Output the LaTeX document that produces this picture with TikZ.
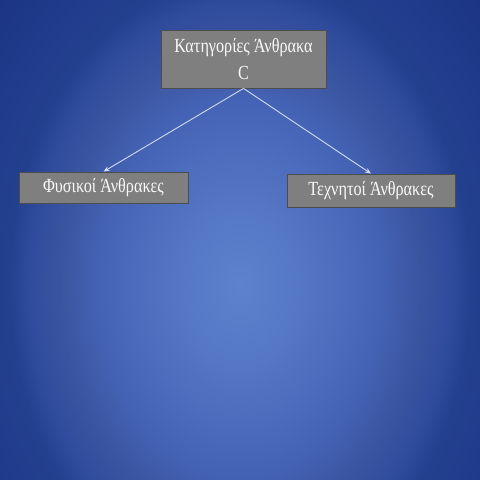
\documentclass[tikz,border=0pt]{standalone}
\usepackage{fontspec}
\setmainfont{Liberation Serif}
\newfontfamily\boxfont[FakeStretch=0.81]{Liberation Serif}
\usetikzlibrary{arrows.meta}
\definecolor{bgc0}{HTML}{5E82CE}
\definecolor{bgc1}{HTML}{5577C5}
\definecolor{bgc2}{HTML}{4563B5}
\definecolor{bgc3}{HTML}{3A55A0}
\definecolor{bgc4}{HTML}{2F4B9C}
\definecolor{bgc5}{HTML}{23408F}
\definecolor{bgc6}{HTML}{1C3585}
\definecolor{boxgray}{HTML}{7F7F7F}
\definecolor{arrowcol}{HTML}{D0DCF4}
\pgfdeclareradialshading{bgshade}{\pgfpoint{0bp}{0bp}}{color(0bp)=(bgc0); color(25bp)=(bgc1); color(58bp)=(bgc2); color(75bp)=(bgc3); color(87.5bp)=(bgc4); color(96bp)=(bgc5); color(134bp)=(bgc6); color(140bp)=(bgc6)}
\tikzset{
  catbox/.style={draw=black!70, line width=0.8pt, fill=boxgray, text=white!95!gray,
    font=\boxfont\fontsize{20}{27}\selectfont, inner sep=0pt, align=center},
  link/.style={draw=arrowcol, line width=0.9pt, -{Stealth[length=6pt,width=5pt]}}
}
\begin{document}
\begin{tikzpicture}[x=1pt,y=-1pt]
\useasboundingbox (0,0) rectangle (480,480);
\begin{scope}
\clip (0,0) rectangle (480,480);
\begin{scope}[shift={(240,285)}, xscale=2.4, yscale=3.2]
\pgflowlevelsynccm
\pgfuseshading{bgshade}
\end{scope}
\end{scope}
\node[catbox, minimum width=165pt, minimum height=58pt] (top) at (243.5,59) {Κατηγορίες Άνθρακα\\C};
\node[catbox, minimum width=169pt, minimum height=31pt] (left) at (103.5,187.5) {Φυσικοί Άνθρακες};
\node[catbox, minimum width=168pt, minimum height=33pt] (right) at (371,190.5) {Τεχνητοί Άνθρακες};
\draw[link] (top.south) -- (left.north);
\draw[link] (top.south) -- (right.north);
\end{tikzpicture}
\end{document}
